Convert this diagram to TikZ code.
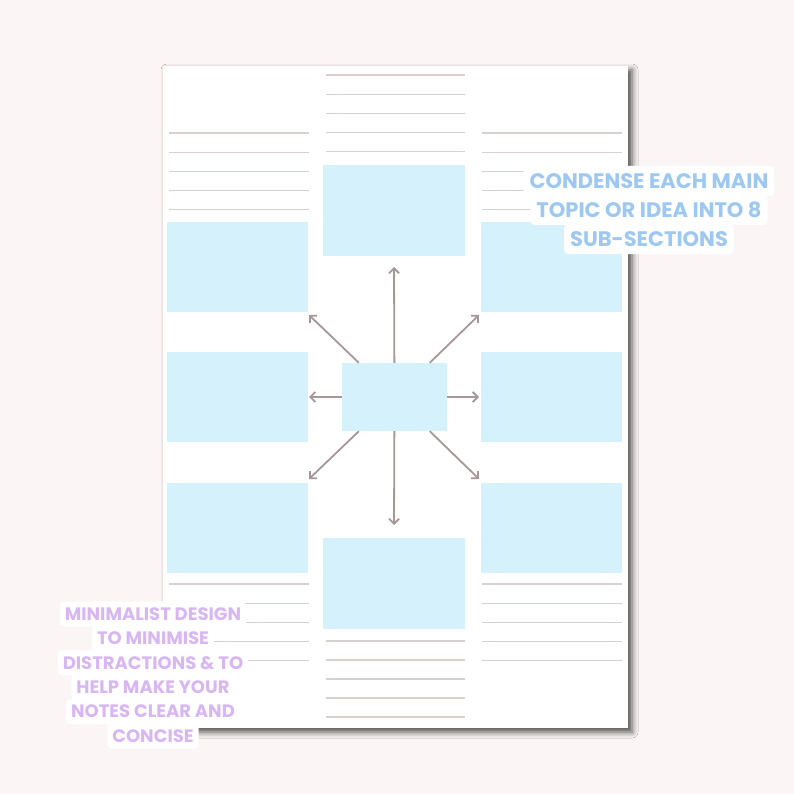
\documentclass[tikz,border=0pt]{standalone}
\usepackage{fontspec}
\setmainfont{Poppins}
\usetikzlibrary{arrows.meta,shadows.blur}

\definecolor{fundo}{HTML}{FBF6F5}
\definecolor{caixa}{HTML}{D5F2FC}
\definecolor{linha}{HTML}{D9D0D0}
\definecolor{seta}{HTML}{A69898}
\definecolor{azul}{HTML}{9CC8F2}
\definecolor{lilas}{HTML}{D8B6F3}

\begin{document}
\begin{tikzpicture}[x=1pt,y=-1pt,
    bloco/.style={rectangle, fill=caixa, inner sep=0pt, minimum width=141pt, minimum height=90pt},
    regra/.style={draw=linha, line width=1.3pt},
    flecha/.style={draw=seta, line width=1.8pt, -{Straight Barb[length=5pt,width=10pt]}},
    marca/.style={fill=white, rounded corners=4pt, inner xsep=6pt, minimum height=30pt, font=\bfseries\fontsize{21}{21}\selectfont}]
            % Fundo e folha
            \fill[fundo] (0,0) rectangle (794,794);
            \useasboundingbox (0,0) rectangle (794,794);
            \fill[white, blur shadow={shadow xshift=4pt, shadow yshift=-4pt, shadow blur radius=6pt, shadow opacity=70}] (163,66) rectangle (628,728);

            % Linhas das colunas
            \foreach \k in {0,...,4} {
                \draw[regra] (169,133+19.2*\k) -- (309,133+19.2*\k);
                \draw[regra] (482,133+19.2*\k) -- (622,133+19.2*\k);
                \draw[regra] (326,75+19.2*\k) -- (465,75+19.2*\k);
                \draw[regra] (169,584+19.2*\k) -- (309,584+19.2*\k);
                \draw[regra] (482,584+19.2*\k) -- (622,584+19.2*\k);
                \draw[regra] (326,641+19*\k) -- (465,641+19*\k);
            }

            % Caixas
            \node at (394.5,397) (centro) [bloco, minimum width=105pt, minimum height=68pt] {};
            \node at (394,210.5) (cima) [bloco, minimum width=142pt, minimum height=91pt] {};
            \node at (394,583.5) (baixo) [bloco, minimum width=142pt, minimum height=91pt] {};
            \node at (237.5,267) (esqcima) [bloco] {};
            \node at (237.5,396.5) (esqmeio) [bloco] {};
            \node at (237.5,527.5) (esqbaixo) [bloco] {};
            \node at (551,267) (dircima) [bloco] {};
            \node at (551,396.5) (dirmeio) [bloco] {};
            \node at (551,527.5) (dirbaixo) [bloco] {};

            % Pontas das setas
            \coordinate (pcima) at (394,267);
            \coordinate (pbaixo) at (394,525);
            \coordinate (pesq) at (309,397);
            \coordinate (pdir) at (479,397);
            \coordinate (pes) at (309,315);
            \coordinate (pds) at (479,315);
            \coordinate (pei) at (309,479);
            \coordinate (pdi) at (479,479);
            \foreach \p in {pcima,pbaixo,pesq,pdir,pes,pds,pei,pdi}
                \draw[flecha] (centro) -- (\p);

            % Notas
            \foreach \t [count=\i] in {CONDENSE EACH MAIN, TOPIC OR IDEA INTO 8, SUB-SECTIONS}
                \node at (649,152+29*\i) (nota\i) [marca, text=azul] {\t};
            \foreach \t [count=\i] in {MINIMALIST DESIGN, TO MINIMISE, DISTRACTIONS \& TO, HELP MAKE YOUR, NOTES CLEAR AND, CONCISE}
                \node at (153,589.6+24.4*\i) (aviso\i) [marca, text=lilas, minimum height=25pt, inner xsep=5pt, font=\bfseries\fontsize{18}{18}\selectfont] {\t};
        \end{tikzpicture}
\end{document}
